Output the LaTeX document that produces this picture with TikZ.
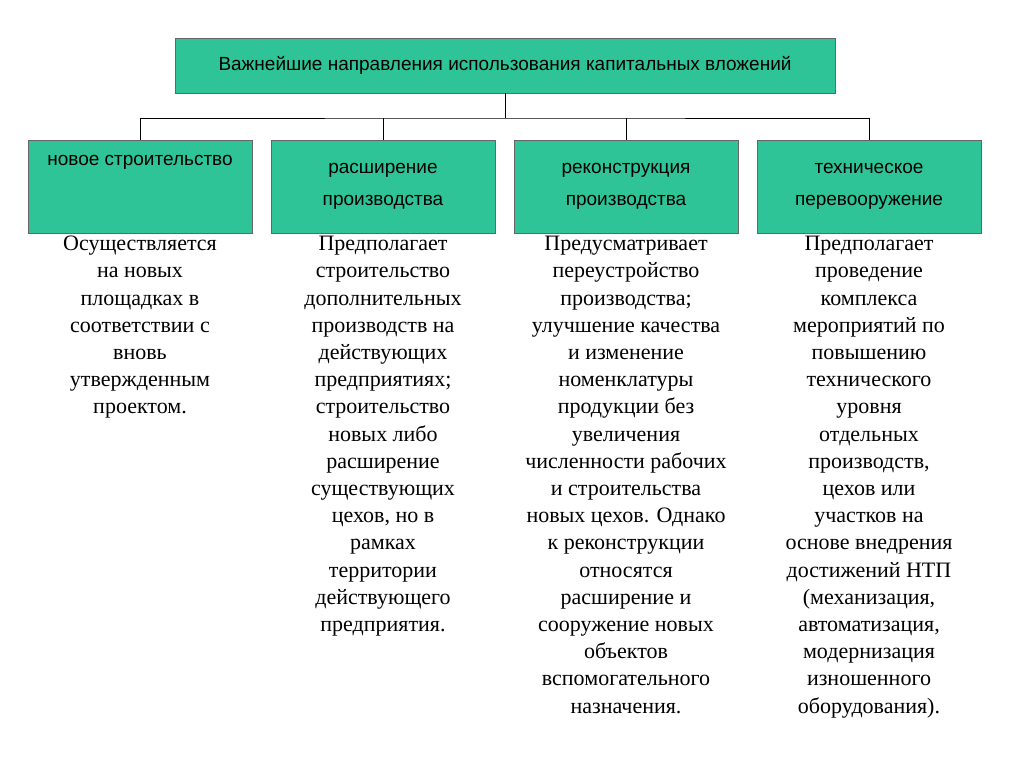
\documentclass[tikz,border=0pt]{standalone}
\usepackage{fontspec}
\setmainfont{Liberation Serif}
\setsansfont{Liberation Sans}
\definecolor{boxgreen}{RGB}{46,196,151}
\begin{document}
\begin{tikzpicture}[x=1pt,y=-1pt]
  \tikzstyle{head}=[rectangle, draw=black!60, fill=boxgreen, font=\sffamily\fontsize{19}{24}\selectfont, align=center, inner sep=0pt]
  \tikzstyle{body}=[anchor=north, align=center, font=\fontsize{22}{27.2}\selectfont, inner sep=0pt]
  \useasboundingbox (0,0) rectangle (1024,768);
  \node [head, minimum width=660, minimum height=55] (top) at (505,65.5) {Важнейшие направления использования капитальных вложений};
  \node [head, minimum width=224, minimum height=93] (b1) at (140,186.5) {новое строительство\\[28pt]};
  \node [head, minimum width=224, minimum height=93] (b2) at (383,186.5) {расширение\\[8pt]производства};
  \node [head, minimum width=224, minimum height=93] (b3) at (626,186.5) {реконструкция\\[8pt]производства};
  \node [head, minimum width=224, minimum height=93] (b4) at (869,186.5) {техническое\\[8pt]перевооружение};
  \coordinate (j) at (505,118);
  \draw (top.south) -- (j);
  \draw (b1.north) |- (j) -| (b4.north);
  \draw (b2.north) -- (b2.north |- j);
  \draw (b3.north) -- (b3.north |- j);
  \node [body] (t1) at (140,236) {Осуществляется\\на новых\\площадках в\\соответствии с\\вновь\\утвержденным\\проектом.};
  \node [body] (t2) at (383,236) {Предполагает\\строительство\\дополнительных\\производств на\\действующих\\предприятиях;\\строительство\\новых либо\\расширение\\существующих\\цехов, но в\\рамках\\территории\\действующего\\предприятия.};
  \node [body] (t3) at (626,236) {Предусматривает\\переустройство\\производства;\\улучшение качества\\и изменение\\номенклатуры\\продукции без\\увеличения\\численности рабочих\\и строительства\\новых цехов. Однако\\к реконструкции\\относятся\\расширение и\\сооружение новых\\объектов\\вспомогательного\\назначения.};
  \node [body] (t4) at (869,236) {Предполагает\\проведение\\комплекса\\мероприятий по\\повышению\\технического\\уровня\\отдельных\\производств,\\цехов или\\участков на\\основе внедрения\\достижений НТП\\(механизация,\\автоматизация,\\модернизация\\изношенного\\оборудования).};
\end{tikzpicture}
\end{document}
